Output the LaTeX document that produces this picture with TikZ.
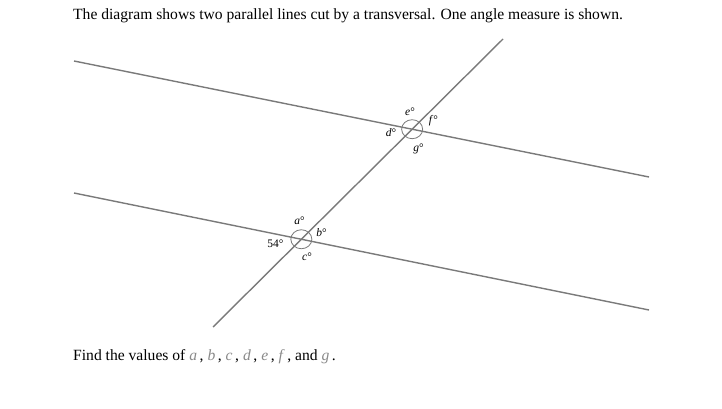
\documentclass[tikz,border=0pt]{standalone}
\usepackage{fontspec}
\setmainfont{Liberation Serif}
\definecolor{lineg}{HTML}{7A7A7A}
\definecolor{varg}{HTML}{8A8A8A}
\begin{document}
\begin{tikzpicture}[x=1pt,y=-1pt,
  geoline/.style={draw=lineg,line width=1.4pt},
  arc/.style={draw=lineg,line width=0.8pt},
  lbl/.style={inner sep=0pt,font=\fontsize{11.5}{13}\selectfont,text=black},
  txt/.style={inner sep=0pt,anchor=west,text=black}]
\fill[white] (0,0) rectangle (722,409);
\useasboundingbox (0,0) rectangle (722,409);
% endpoints
\coordinate (L1a) at (74,61);
\coordinate (L1b) at (649,177);
\coordinate (L2a) at (74,193);
\coordinate (L2b) at (649,310);
\coordinate (Ta) at (213,327);
\coordinate (Tb) at (503,39);
\draw[geoline] (L1a) -- (L1b);
\draw[geoline] (L2a) -- (L2b);
\draw[geoline] (Ta) -- (Tb);
\coordinate (P) at (intersection of L1a--L1b and Ta--Tb);
\coordinate (Q) at (intersection of L2a--L2b and Ta--Tb);
\draw[arc] (P) circle[x radius=10.5, y radius=9.5];
\draw[arc] (Q) circle[x radius=10.5, y radius=9.5];
% top labels
\node[lbl] (e) at (410,112) {\textit{e}°};
\node[lbl] (f) at (433.5,121) {\textit{f}°};
\node[lbl] (d) at (391,133) {\textit{d}°};
\node[lbl] (g) at (418.5,148.5) {\textit{g}°};
% bottom labels
\node[lbl] (a) at (299.5,221) {\textit{a}°};
\node[lbl] (b) at (321.5,233) {\textit{b}°};
\node[lbl] (k) at (275.5,243.5) {54°};
\node[lbl] (c) at (307,257) {\textit{c}°};
% texts
\node[txt,font=\fontsize{15.6}{18}\selectfont] (title) at (73,15.5) {The diagram shows two parallel lines cut by a transversal. One angle measure is shown.};
\node[txt,font=\fontsize{15.6}{18}\selectfont] (q) at (73,357) {Find the values of \textcolor{varg}{\textit{a}}\,, \textcolor{varg}{\textit{b}}\,, \textcolor{varg}{\textit{c}}\,, \textcolor{varg}{\textit{d}}\,, \textcolor{varg}{\textit{e}}\,, \textcolor{varg}{\textit{f}}\,, and \textcolor{varg}{\textit{g}}\,.};
\end{tikzpicture}
\end{document}
